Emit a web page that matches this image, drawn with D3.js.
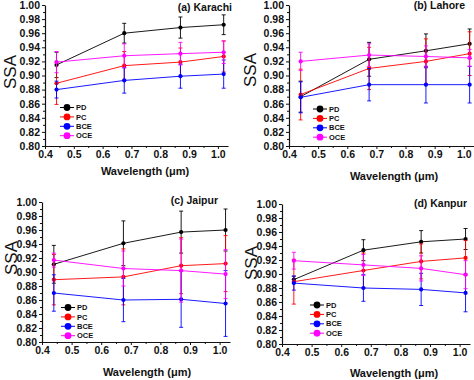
<!DOCTYPE html>
<html>
<head>
<meta charset="utf-8">
<title>SSA vs wavelength</title>
<style>
  body { margin: 0; background: #fff; }
  svg { display: block; font-family: "Liberation Sans", Arial, sans-serif; }
  .tick text { font-weight: bold; font-size: 10.5px; fill: #111; }
  .domain, .tick line { stroke: #111; }
</style>
<script src="https://cdn.jsdelivr.net/npm/d3@7"></script>
</head>
<body>
<script>
// wavelengths (um) and series
var wavelengths = [0.44, 0.675, 0.87, 1.02];
var seriesNames = ['PD', 'PC', 'BCE', 'OCE'];
var seriesColors = ['#000000', '#ff0000', '#0000ff', '#ff00ff'];
var yTicks = [0.80, 0.82, 0.84, 0.86, 0.88, 0.90, 0.92, 0.94, 0.96, 0.98, 1.00];
var xTicks = [0.4, 0.5, 0.6, 0.7, 0.8, 0.9, 1.0];

// SSA values, rows = PD, PC, BCE, OCE
var karachi = [
  [0.915, 0.960, 0.968, 0.972],
  [0.889, 0.914, 0.919, 0.927],
  [0.880, 0.893, 0.899, 0.902],
  [0.919, 0.928, 0.931, 0.933]
];
var karachiErr = [
  [0.018, 0.014, 0.015, 0.014],
  [0.030, 0.020, 0.020, 0.022],
  [0.012, 0.018, 0.017, 0.020],
  [0.015, 0.017, 0.016, 0.016]
];
var lahore = [
  [0.870, 0.923, 0.935, 0.945],
  [0.873, 0.910, 0.920, 0.931],
  [0.869, 0.887, 0.887, 0.887],
  [0.920, 0.929, 0.927, 0.925]
];
var lahoreErr = [
  [0.022, 0.024, 0.024, 0.021],
  [0.036, 0.030, 0.032, 0.031],
  [0.022, 0.023, 0.026, 0.026],
  [0.013, 0.016, 0.015, 0.012]
];
var jaipur = [
  [0.911, 0.941, 0.957, 0.960],
  [0.889, 0.893, 0.909, 0.912],
  [0.870, 0.860, 0.861, 0.855],
  [0.917, 0.905, 0.902, 0.897]
];
var jaipurErr = [
  [0.027, 0.032, 0.030, 0.030],
  [0.036, 0.040, 0.040, 0.040],
  [0.026, 0.031, 0.040, 0.047],
  [0.010, 0.025, 0.045, 0.035]
];
var kanpur = [
  [0.892, 0.934, 0.946, 0.950],
  [0.889, 0.905, 0.918, 0.923],
  [0.887, 0.880, 0.878, 0.873],
  [0.919, 0.913, 0.908, 0.899]
];
var kanpurErr = [
  [0.005, 0.015, 0.016, 0.015],
  [0.032, 0.025, 0.025, 0.025],
  [0.010, 0.019, 0.023, 0.027],
  [0.012, 0.015, 0.018, 0.020]
];

// panel layout
var panels = [
  { title: '(a) Karachi', vals: karachi, errs: karachiErr,
    left: 45, right: 228, top: 5, bottom: 146,
    ssaX: 10, ssaY: 72, xTitleX: 145, xTitleY: 175,
    titleX: 232, titleY: 11, legX: 67, legY: 107.5 },
  { title: '(b) Lahore', vals: lahore, errs: lahoreErr,
    left: 289, right: 474, top: 5, bottom: 146,
    ssaX: 250, ssaY: 70, xTitleX: 394, xTitleY: 180,
    titleX: 465, titleY: 9, legX: 320, legY: 109 },
  { title: '(c) Jaipur', vals: jaipur, errs: jaipurErr,
    left: 42, right: 230, top: 202, bottom: 342,
    ssaX: 11, ssaY: 258, xTitleX: 147, xTitleY: 376,
    titleX: 218, titleY: 204, legX: 68, legY: 307.5 },
  { title: '(d) Kanpur', vals: kanpur, errs: kanpurErr,
    left: 282, right: 470, top: 204, bottom: 344,
    ssaX: 251, ssaY: 263, xTitleX: 394, xTitleY: 377,
    titleX: 467, titleY: 207, legX: 317, legY: 305 }
];

var svg = d3.select('body').append('svg')
  .attr('width', 474)
  .attr('height', 380);

panels.forEach(function (p) {
  var x = d3.scaleLinear().domain([0.4, 1.035]).range([p.left, p.right]);
  var y = d3.scaleLinear().domain([0.80, 1.00]).range([p.bottom, p.top]);
  var g = svg.append('g');

  // minor ticks
  g.append('g')
    .attr('transform', 'translate(' + p.left + ',0)')
    .call(d3.axisLeft(y).tickValues(d3.range(0.81, 1.0, 0.02)).tickSize(2).tickFormat(''))
    .call(function (s) { s.select('.domain').remove(); });
  g.append('g')
    .attr('transform', 'translate(0,' + p.bottom + ')')
    .call(d3.axisBottom(x).tickValues(d3.range(0.45, 1.03, 0.1)).tickSize(2).tickFormat(''))
    .call(function (s) { s.select('.domain').remove(); });

  // major axes
  g.append('g')
    .attr('transform', 'translate(' + p.left + ',0)')
    .call(d3.axisLeft(y).tickValues(yTicks).tickSize(3).tickSizeOuter(0).tickPadding(2)
      .tickFormat(d3.format('.2f')))
    .call(function (s) { s.select('.domain').attr('stroke-width', 1.2); });
  g.append('g')
    .attr('transform', 'translate(0,' + p.bottom + ')')
    .call(d3.axisBottom(x).tickValues(xTicks).tickSize(3).tickSizeOuter(0).tickPadding(2)
      .tickFormat(d3.format('.1f')))
    .call(function (s) { s.select('.domain').attr('stroke-width', 1.2); });

  // axis titles
  g.append('text')
    .attr('transform', 'translate(' + p.ssaX + ',' + p.ssaY + ') rotate(-90)')
    .attr('text-anchor', 'middle')
    .attr('dominant-baseline', 'central')
    .style('font-size', '17px')
    .attr('fill', '#111')
    .text('SSA');
  g.append('text')
    .attr('x', p.xTitleX)
    .attr('y', p.xTitleY)
    .attr('text-anchor', 'middle')
    .style('font-size', '11px')
    .style('font-weight', 'bold')
    .attr('fill', '#111')
    .text('Wavelength (\u03bcm)');

  // panel title
  g.append('text')
    .attr('x', p.titleX)
    .attr('y', p.titleY)
    .attr('text-anchor', 'end')
    .style('font-size', '10.5px')
    .style('font-weight', 'bold')
    .attr('fill', '#111')
    .text(p.title);

  // series
  var line = d3.line()
    .x(function (d) { return x(d.w); })
    .y(function (d) { return y(d.v); });

  seriesNames.forEach(function (name, si) {
    var pts = wavelengths.map(function (w, i) {
      return { w: w, v: p.vals[si][i], e: p.errs[si][i] };
    });
    var c = seriesColors[si];
    var sg = g.append('g');

    sg.append('path')
      .datum(pts)
      .attr('fill', 'none')
      .attr('stroke', c)
      .attr('stroke-width', 0.9)
      .attr('d', line);

    var eb = sg.selectAll('.eb').data(pts).enter().append('g');
    eb.append('line')
      .attr('x1', function (d) { return x(d.w); })
      .attr('x2', function (d) { return x(d.w); })
      .attr('y1', function (d) { return y(d.v - d.e); })
      .attr('y2', function (d) { return y(d.v + d.e); })
      .attr('stroke', c).attr('stroke-width', 0.9);
    [-1, 1].forEach(function (s) {
      eb.append('line')
        .attr('x1', function (d) { return x(d.w) - 2; })
        .attr('x2', function (d) { return x(d.w) + 2; })
        .attr('y1', function (d) { return y(d.v + s * d.e); })
        .attr('y2', function (d) { return y(d.v + s * d.e); })
        .attr('stroke', c).attr('stroke-width', 0.9);
    });

    sg.selectAll('.pt').data(pts).enter().append('circle')
      .attr('cx', function (d) { return x(d.w); })
      .attr('cy', function (d) { return y(d.v); })
      .attr('r', 2.1)
      .attr('fill', c);
  });

  // legend
  var leg = g.selectAll('.leg').data(seriesNames).enter().append('g')
    .attr('transform', function (d, i) {
      return 'translate(' + p.legX + ',' + (p.legY + i * 9.4) + ')';
    });
  leg.append('line')
    .attr('x1', -7).attr('x2', 7)
    .attr('stroke', function (d, i) { return seriesColors[i]; })
    .attr('stroke-width', 1);
  leg.append('circle')
    .attr('r', 3.4)
    .attr('fill', function (d, i) { return seriesColors[i]; });
  leg.append('text')
    .attr('x', 9)
    .attr('dy', '0.35em')
    .style('font-size', '7.5px')
    .style('font-weight', 'bold')
    .attr('fill', '#111')
    .text(function (d) { return d; });
});
</script>
</body>
</html>
